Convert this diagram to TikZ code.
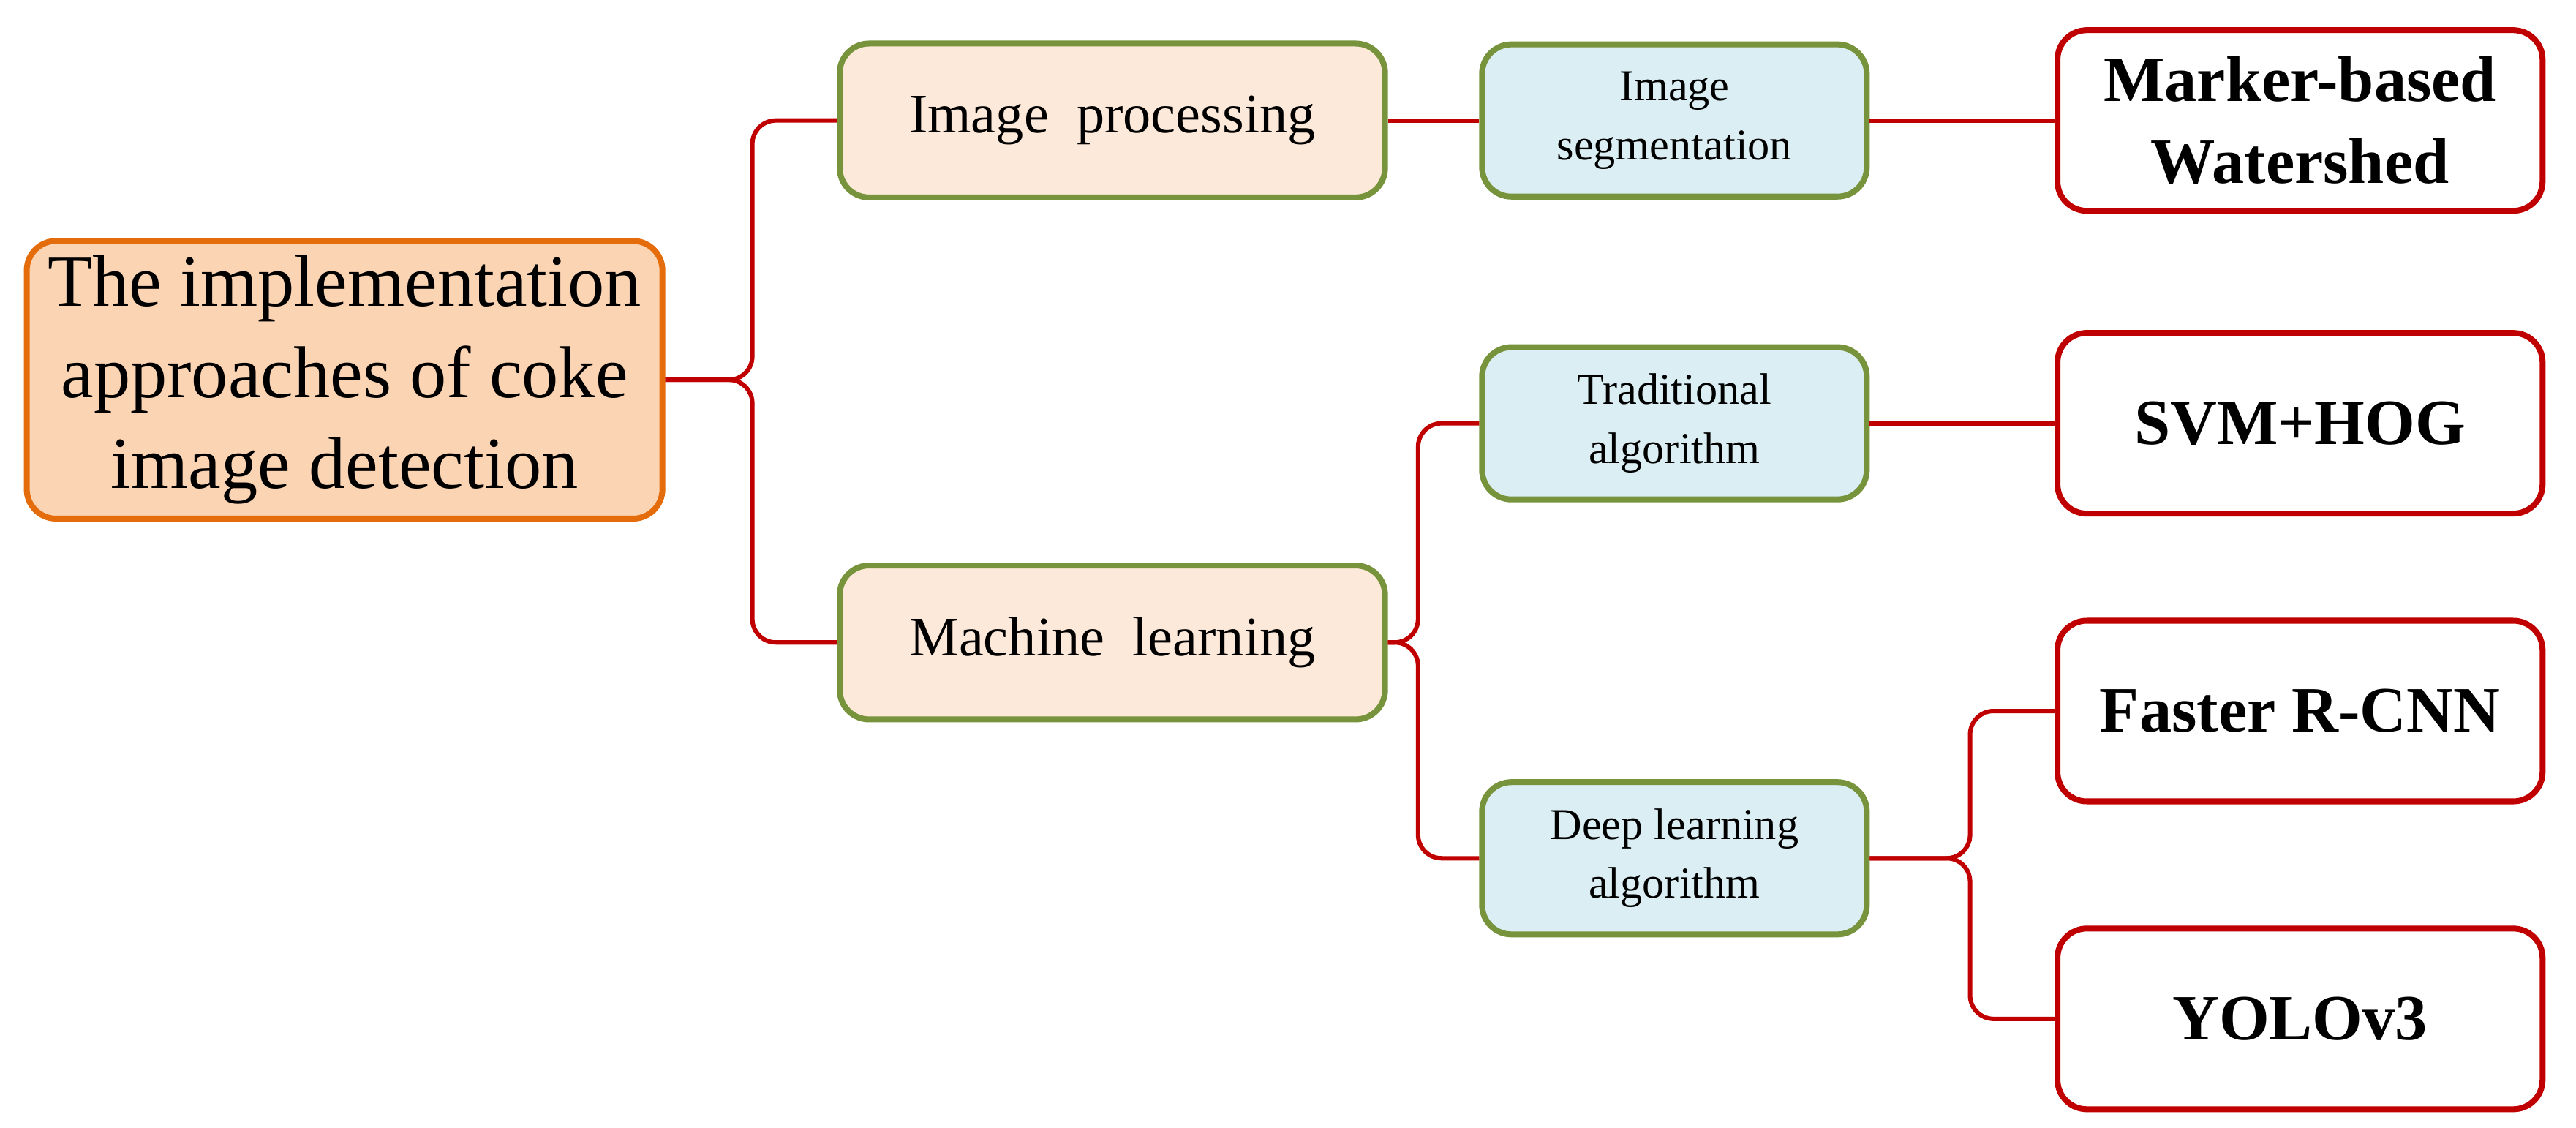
\documentclass[tikz,border=0pt]{standalone}
\usepackage{fontspec}
\setmainfont{Liberation Serif}
\definecolor{linkred}{HTML}{C00000}
\definecolor{rootfill}{HTML}{FBD4B4}
\definecolor{rootdraw}{HTML}{E46C0A}
\definecolor{midfill}{HTML}{FDE9D9}
\definecolor{leaffill}{HTML}{DAEEF3}
\definecolor{boxgreen}{HTML}{77933C}
\begin{document}
\begin{tikzpicture}[x=0.02cm, y=-0.02cm]
\tikzset{
  box/.style={draw, rounded corners=10pt, line width=2pt, align=center, inner sep=0pt},
  rootbox/.style={box, fill=rootfill, draw=rootdraw, minimum width=380*0.02cm, minimum height=166*0.02cm, font=\fontsize{25}{31}\selectfont},
  midbox/.style={box, fill=midfill, draw=boxgreen, minimum width=326*0.02cm, minimum height=92*0.02cm, font=\fontsize{19}{23}\selectfont},
  algbox/.style={box, fill=leaffill, draw=boxgreen, minimum width=230*0.02cm, minimum height=91*0.02cm, font=\fontsize{15}{20}\selectfont},
  outbox/.style={box, fill=white, draw=linkred, minimum width=290*0.02cm, minimum height=108*0.02cm, font=\fontsize{22}{28}\selectfont\bfseries},
  link/.style={draw=linkred, line width=1.5pt, rounded corners=8pt}
}
\useasboundingbox (0,0) rectangle (1540,674);

% Root
\node[rootbox] (root) at (206,227) {The implementation\\approaches of coke\\image detection};

% Second level
\node[midbox] (proc) at (665,72) {Image\ \ processing};
\node[midbox] (ml) at (665,384) {Machine\ \ learning};

% Third level
\node[algbox] (seg) at (1001,72) {Image\\segmentation};
\node[algbox] (trad) at (1001,253) {Traditional\\algorithm};
\node[algbox] (deep) at (1001,513) {Deep learning\\algorithm};

% Methods
\node[outbox] (water) at (1375,72) {Marker-based\\Watershed};
\node[outbox] (svm) at (1375,253) {SVM+HOG};
\node[outbox] (frcnn) at (1375,425) {Faster R-CNN};
\node[outbox] (yolo) at (1375,609) {YOLOv3};

% Links
\draw[link] (root.east) -- ++(52,0) |- (proc.west);
\draw[link] (root.east) -- ++(52,0) |- (ml.west);
\draw[link] (proc.east) -- (seg.west);
\draw[link] (seg.east) -- (water.west);
\draw[link] (ml.east) -- ++(18,0) |- (trad.west);
\draw[link] (ml.east) -- ++(18,0) |- (deep.west);
\draw[link] (trad.east) -- (svm.west);
\draw[link] (deep.east) -- ++(60,0) |- (frcnn.west);
\draw[link] (deep.east) -- ++(60,0) |- (yolo.west);
\end{tikzpicture}
\end{document}
